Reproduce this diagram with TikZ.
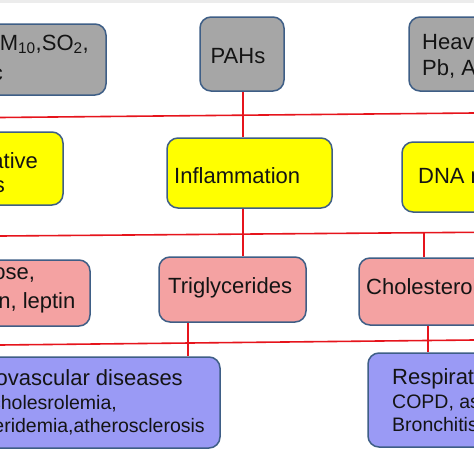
\documentclass[tikz,border=0pt]{standalone}
\usepackage{fontspec}
\setmainfont{Liberation Sans}
\definecolor{boxedge}{HTML}{3E5E86}
\definecolor{grayfill}{HTML}{A6A6A6}
\definecolor{yellowfill}{HTML}{FFFF00}
\definecolor{pinkfill}{HTML}{F4A2A2}
\definecolor{bluefill}{HTML}{9A9AF5}
\definecolor{linkred}{HTML}{E6141C}
\definecolor{textcol}{HTML}{141414}
\begin{document}
\begin{tikzpicture}[x=1pt,y=-1pt,
  box/.style={draw=boxedge, line width=1.5pt, rounded corners=11pt, inner sep=0pt},
  link/.style={draw=linkred, line width=1.6pt},
  txt/.style={inner sep=0pt, text=textcol, font=\fontsize{22}{26}\selectfont},
  smalltxt/.style={inner sep=0pt, text=textcol, font=\fontsize{19.5}{23}\selectfont}]
\useasboundingbox (0,0) rectangle (474,474);
\clip (0,0) rectangle (474,474);
\fill[white] (0,0) rectangle (474,474);
\fill[gray!15] (0,0) rectangle (474,2.5);

% bus lines
\coordinate (h1l) at (0,117.5); \coordinate (h1r) at (474,113);
\coordinate (h2l) at (0,236);   \coordinate (h2r) at (474,232.3);
\coordinate (h3l) at (0,345);   \coordinate (h3r) at (474,340);
\draw[link] (h1l) -- (h1r);
\draw[link] (h2l) -- (h2r);
\draw[link] (h3l) -- (h3r);

% boxes
\node[box, fill=grayfill, minimum width=166pt, minimum height=71pt] (G1) at (23,59.5) {};
\node[box, fill=grayfill, minimum width=84pt, minimum height=74pt] (G2) at (242,54) {};
\node[box, fill=grayfill, minimum width=131pt, minimum height=74pt] (G3) at (474.5,54) {};
\node[box, fill=yellowfill, minimum width=143pt, minimum height=73pt] (Y1) at (-8.5,168.5) {};
\node[box, fill=yellowfill, minimum width=165pt, minimum height=70pt] (Y2) at (249.5,173) {};
\node[box, fill=yellowfill, minimum width=158pt, minimum height=70pt] (Y3) at (481,177) {};
\node[box, fill=pinkfill, minimum width=170pt, minimum height=66pt] (P1) at (5,293) {};
\node[box, fill=pinkfill, minimum width=147pt, minimum height=65pt] (P2) at (232.5,289.5) {};
\node[box, fill=pinkfill, minimum width=161pt, minimum height=67pt] (P3) at (439.5,291.5) {};
\node[box, fill=bluefill, minimum width=420pt, minimum height=91pt] (B1) at (10,402.5) {};
\node[box, fill=bluefill, minimum width=192pt, minimum height=94pt] (B2) at (464,400) {};

% connectors
\coordinate (v1) at (243,0);
\coordinate (v3) at (188,0);
\coordinate (v4) at (428,0);
\coordinate (j1) at (424,232.7);
\draw[link] (G2.south -| v1) -- (Y2.north -| v1);
\draw[link] (Y2.south -| v1) -- (P2.north -| v1);
\draw[link] (j1) -- (P3.north -| j1);
\draw[link] (P2.south -| v3) -- (B1.north -| v3);
\draw[link] (P3.south -| v4) -- (B2.north -| v4);

% texts
\node[txt, anchor=base east] (tg1a) at (89,50) {PM\textsubscript{10},SO\textsubscript{2},};
\node[txt, anchor=base east] (tg1b) at (3,80) {etc};
\node[txt, anchor=base] (tg2) at (238,63) {PAHs};
\node[txt, anchor=base west] (tg3a) at (422,49.5) {Heavy metals};
\node[txt, anchor=base west] (tg3b) at (422,75) {Pb, As, Cd};
\node[txt, anchor=base west] (ty1a) at (-54,168) {Oxidative};
\node[txt, anchor=base west] (ty1b) at (-54,192) {stress};
\node[txt, anchor=base west] (ty2) at (174,183) {Inflammation};
\node[txt, anchor=base west] (ty3) at (418,183.5) {DNA methylation};
\node[txt, anchor=base west] (tp1a) at (-52,279) {Glucose,};
\node[txt, anchor=base west] (tp1b) at (-52,308) {insulin, leptin};
\node[txt, anchor=base west] (tp2) at (168,293.5) {Triglycerides};
\node[txt, anchor=base west] (tp3) at (366,294) {Cholesterol};
\node[txt, anchor=base east] (tb1a) at (183,385) {Cardiovascular diseases};
\node[smalltxt, anchor=base east] (tb1b) at (117,409) {Hypercholesrolemia,};
\node[smalltxt, anchor=base east] (tb1c) at (205,432.5) {Hypertriglyceridemia,atherosclerosis};
\node[txt, anchor=base west] (tb2a) at (392,384) {Respiratory diseases};
\node[smalltxt, anchor=base west] (tb2b) at (392,408.3) {COPD, asthma,};
\node[smalltxt, anchor=base west] (tb2c) at (392,431.7) {Bronchitis};
\end{tikzpicture}
\end{document}
